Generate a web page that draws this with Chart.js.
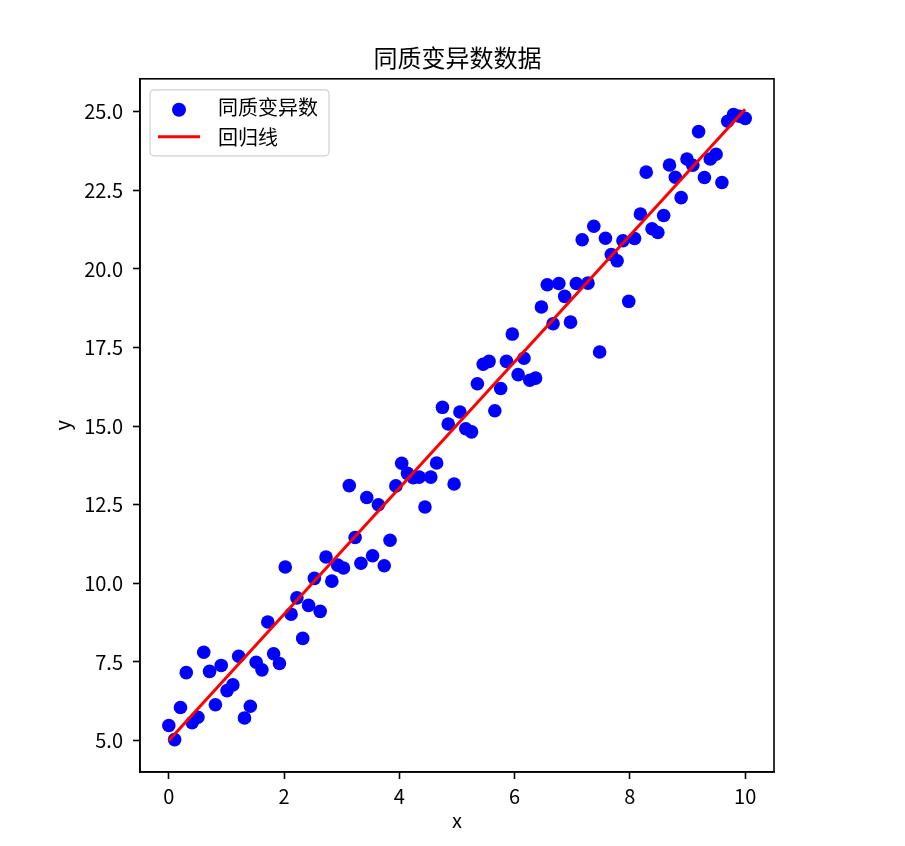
<!DOCTYPE html>
<html>
<head>
<meta charset="utf-8">
<title>同质变异数数据</title>
<script src="https://cdn.jsdelivr.net/npm/chart.js@4.4.1/dist/chart.umd.min.js"></script>
<style>
    html, body { margin: 0; padding: 0; background: #fff; }
    #wrap { width: 905px; height: 846px; }
</style>
</head>
<body>
<div id="wrap"><canvas id="scatterChart" width="905" height="846"></canvas></div>
<script>
// Dados (x = 0..10, 100 pontos)
const pointY = [
    5.48, 5.03, 6.05, 7.16, 5.57, 5.74, 7.81, 7.20, 6.14, 7.39,
    6.59, 6.77, 7.68, 5.72, 6.09, 7.49, 7.25, 8.77, 7.76, 7.45,
    10.52, 9.02, 9.54, 8.25, 9.30, 10.16, 9.11, 10.84, 10.07, 10.58,
    10.49, 13.11, 11.46, 10.64, 12.73, 10.88, 12.50, 10.56, 11.37, 13.10,
    13.82, 13.50, 13.36, 13.38, 12.43, 13.38, 13.83, 15.60, 15.07, 13.16,
    15.45, 14.92, 14.82, 16.35, 16.97, 17.06, 15.49, 16.20, 17.06, 17.93,
    16.64, 17.16, 16.46, 16.53, 18.79, 19.50, 18.26, 19.54, 19.13, 18.31,
    19.54, 20.93, 19.55, 21.36, 17.36, 20.98, 20.46, 20.26, 20.90, 18.97,
    20.97, 21.75, 23.08, 21.28, 21.16, 21.70, 23.31, 22.92, 22.27, 23.50,
    23.30, 24.37, 22.91, 23.50, 23.65, 22.75, 24.70, 24.91, 24.86, 24.79
];
const pointX = pointY.map((_, i) => i * 10 / 99);

// Reta de regressão (extremos)
const lineX = [0, 10];
const lineY = [5.0, 25.08];

const xTicks = [0, 2, 4, 6, 8, 10];
const yTicks = [5.0, 7.5, 10.0, 12.5, 15.0, 17.5, 20.0, 22.5, 25.0];

const seriesLabels = ['同质变异数', '回归线'];

const FONT = "'Noto Sans CJK SC', 'Noto Sans', sans-serif";

// Moldura completa dos eixos
const frameBox = {
    id: 'frameBox',
    afterDatasetsDraw(chart) {
        const { ctx, chartArea: a } = chart;
        ctx.save();
        ctx.strokeStyle = '#000';
        ctx.lineWidth = 1.6;
        ctx.strokeRect(a.left, a.top, a.right - a.left, a.bottom - a.top);
        ctx.restore();
    }
};

// Legenda no canto superior esquerdo, desenhada à mão
const innerLegend = {
    id: 'innerLegend',
    afterDraw(chart) {
        const { ctx, chartArea: a } = chart;
        const x = a.left + 10, y = a.top + 11, w = 179, h = 66;
        ctx.save();
        ctx.fillStyle = 'rgba(255,255,255,0.8)';
        ctx.strokeStyle = '#d0d0d0';
        ctx.lineWidth = 1.2;
        ctx.beginPath();
        ctx.roundRect(x, y, w, h, 4);
        ctx.fill();
        ctx.stroke();

        // marcador dos pontos
        ctx.fillStyle = '#0000ff';
        ctx.beginPath();
        ctx.arc(x + 29, y + 20, 7, 0, Math.PI * 2);
        ctx.fill();

        // marcador da reta
        ctx.strokeStyle = '#ff0000';
        ctx.lineWidth = 3;
        ctx.beginPath();
        ctx.moveTo(x + 8, y + 47);
        ctx.lineTo(x + 50, y + 47);
        ctx.stroke();

        ctx.fillStyle = '#000';
        ctx.font = '20px ' + FONT;
        ctx.textBaseline = 'middle';
        ctx.textAlign = 'left';
        ctx.fillText(seriesLabels[0], x + 68, y + 18);
        ctx.fillText(seriesLabels[1], x + 68, y + 48);
        ctx.restore();
    }
};

const ctx = document.getElementById('scatterChart').getContext('2d');
window.scatterChart = new Chart(ctx, {
    type: 'scatter',
    data: {
        datasets: [{
            label: seriesLabels[0],
            data: pointX.map((x, i) => ({ x: x, y: pointY[i] })),
            backgroundColor: '#0000ff',
            borderColor: '#0000ff',
            borderWidth: 0,
            pointRadius: 6.8,
            pointHoverRadius: 6.8,
            order: 1
        }, {
            type: 'line',
            label: seriesLabels[1],
            data: lineX.map((x, i) => ({ x: x, y: lineY[i] })),
            borderColor: '#ff0000',
            borderWidth: 3,
            pointRadius: 0,
            fill: false,
            tension: 0,
            order: 0
        }]
    },
    options: {
        responsive: false,
        animation: false,
        layout: {
            padding: { left: 10, top: 0, right: 0, bottom: 0 }
        },
        plugins: {
            legend: { display: false },
            tooltip: { enabled: false },
            title: {
                display: true,
                text: '同质变异数数据',
                color: '#000',
                font: { family: FONT, size: 24, weight: 'normal' },
                padding: { top: 43, bottom: 7 }
            }
        },
        scales: {
            x: {
                type: 'linear',
                min: -0.5,
                max: 10.5,
                afterBuildTicks: (scale) => { scale.ticks = xTicks.map(v => ({ value: v })); },
                afterFit: (scale) => { scale.height = 74; },
                ticks: {
                    color: '#000',
                    padding: 5,
                    maxRotation: 0,
                    font: { family: FONT, size: 20 },
                    callback: (v) => String(v)
                },
                grid: {
                    display: true,
                    drawOnChartArea: false,
                    drawTicks: true,
                    tickLength: 7,
                    tickColor: '#000',
                    tickWidth: 1.6
                },
                border: { display: true, color: '#000', width: 1.6 },
                title: {
                    display: true,
                    text: 'x',
                    color: '#000',
                    font: { family: FONT, size: 20 },
                    padding: { top: 0, bottom: 14 }
                }
            },
            y: {
                type: 'linear',
                min: 4.0,
                max: 26.05,
                afterBuildTicks: (scale) => { scale.ticks = yTicks.map(v => ({ value: v })); },
                afterFit: (scale) => { scale.width = 130; },
                ticks: {
                    color: '#000',
                    padding: 10,
                    font: { family: FONT, size: 20 },
                    callback: (v) => Number(v).toFixed(1)
                },
                grid: {
                    display: true,
                    drawOnChartArea: false,
                    drawTicks: true,
                    tickLength: 7,
                    tickColor: '#000',
                    tickWidth: 1.6
                },
                border: { display: true, color: '#000', width: 1.6 },
                title: {
                    display: true,
                    text: 'y',
                    color: '#000',
                    font: { family: FONT, size: 20 },
                    padding: { top: 40, bottom: 0 }
                }
            },
            // eixo vazio à direita só para reservar a margem
            yGap: {
                type: 'linear',
                position: 'right',
                min: 0,
                max: 1,
                afterFit: (scale) => { scale.width = 131; },
                ticks: { display: false },
                grid: { display: false, drawTicks: false },
                border: { display: false }
            }
        }
    },
    plugins: [frameBox, innerLegend]
});
</script>
</body>
</html>
